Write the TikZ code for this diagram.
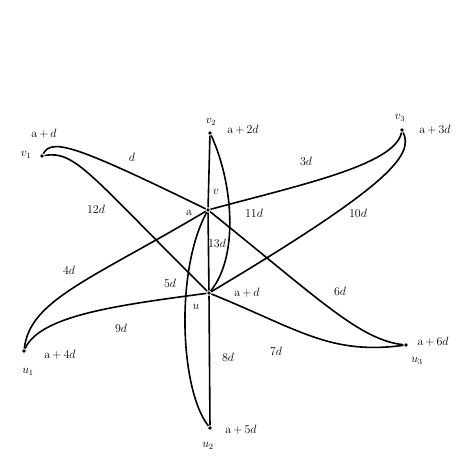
\documentclass[tikz,border=0pt]{standalone}
\begin{document}
\begin{tikzpicture}[x=1pt,y=-1pt,line width=1.6pt,
  dot/.style={circle,fill,inner sep=1.3pt},
  lab/.style={font=\large}]
\useasboundingbox (0,0) rectangle (474,474);
\node[dot] (v) at (208,210) {};
\node[dot] (u) at (209,293) {};
\node[dot] (v1) at (42,156) {};
\node[dot] (v2) at (210,133) {};
\node[dot] (v3) at (402,130) {};
\node[dot] (u1) at (24,351) {};
\node[dot] (u2) at (210,428) {};
\node[dot] (u3) at (406,345) {};
\draw (v1) .. controls (52,138) and (75,145) .. (v);
\draw (v1) .. controls (75,150) and (90,175) .. (u);
\draw (v2) -- (v);
\draw (v2) .. controls (232,180) and (240,255) .. (u);
\draw (v) .. controls (300,185) and (395,165) .. (v3);
\draw (v3) .. controls (414,155) and (390,185) .. (u);
\draw (u) .. controls (120,305) and (40,315) .. (u1);
\draw (u1) .. controls (30,300) and (90,280) .. (v);
\draw (u) -- (u2);
\draw (u2) .. controls (180,390) and (175,270) .. (v);
\draw (v) .. controls (320,300) and (360,340) .. (u3);
\draw (u) .. controls (300,330) and (330,355) .. (u3);
\draw (v) -- (u);
% labels
\node[lab] (l1) at (44,134) {a\,+\,$d$};
\node[lab] (l2) at (26,155) {$v_1$};
\node[lab] (l3) at (211,122) {$v_2$};
\node[lab] (l4) at (243,130) {a\,+\,2$d$};
\node[lab] (l5) at (400,118) {$v_3$};
\node[lab] (l6) at (435,130) {a\,+\,3$d$};
\node[lab] (l7) at (132,157) {$d$};
\node[lab] (l8) at (306,161) {3$d$};
\node[lab] (l9) at (96,209) {12$d$};
\node[lab] (l10) at (216,192) {$v$};
\node[lab] (l11) at (189,213) {a};
\node[lab] (l12) at (254,213) {11$d$};
\node[lab] (l13) at (358,213) {10$d$};
\node[lab] (l14) at (217,243) {13$d$};
\node[lab] (l15) at (69,270) {4$d$};
\node[lab] (l16) at (170,283) {5$d$};
\node[lab] (l17) at (247,293) {a\,+\,$d$};
\node[lab] (l18) at (196,307) {$u$};
\node[lab] (l19) at (340,291) {6$d$};
\node[lab] (l20) at (121,328) {9$d$};
\node[lab] (l21) at (60,355) {a\,+\,4$d$};
\node[lab] (l22) at (28,372) {$u_1$};
\node[lab] (l23) at (228,357) {8$d$};
\node[lab] (l24) at (276,351) {7$d$};
\node[lab] (l25) at (433,342) {a\,+\,6$d$};
\node[lab] (l26) at (417,361) {$u_3$};
\node[lab] (l27) at (241,430) {a\,+\,5$d$};
\node[lab] (l28) at (208,446) {$u_2$};
\end{tikzpicture}
\end{document}
